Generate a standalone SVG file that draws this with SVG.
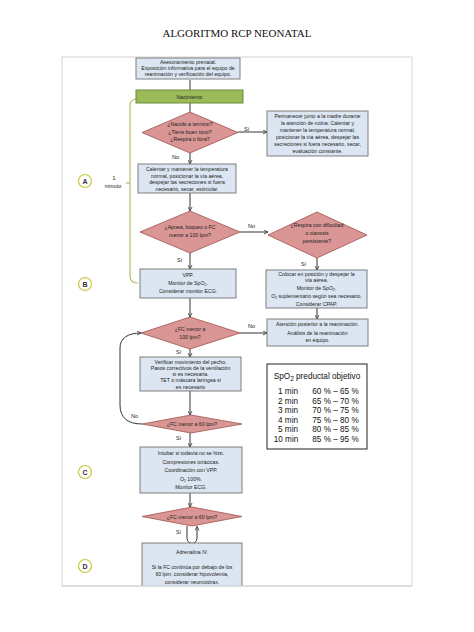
<svg xmlns="http://www.w3.org/2000/svg" width="474" height="632" viewBox="0 0 474 632">
<defs>
<marker id="ah" viewBox="0 0 10 10" refX="9" refY="5" markerWidth="5" markerHeight="5" orient="auto" markerUnits="userSpaceOnUse">
<path d="M1,1 L9,5 L1,9" fill="none" stroke="#333" stroke-width="1.6"/>
</marker>
<clipPath id="frame"><rect x="62" y="57" width="350" height="529"/></clipPath>
</defs>
<style>
.box{fill:#dce6f2;stroke:#7f7f7f;stroke-width:1}
.dia{fill:#d99694;stroke:#a0504d;stroke-width:0.8}
.t{font-family:"Liberation Sans",Arial,sans-serif;font-size:5.2px;fill:#222;text-anchor:middle}
.lbl{font-family:"Liberation Sans",Arial,sans-serif;font-size:5.5px;fill:#222}
.con{fill:none;stroke:#333;stroke-width:1}
.circ{fill:#fff;stroke:#c8c83c;stroke-width:1.2}
.cl{font-family:"Liberation Sans",Arial,sans-serif;font-size:7px;font-weight:bold;fill:#333;text-anchor:middle}
.tab{font-family:"Liberation Sans",Arial,sans-serif;font-size:8.2px;fill:#111}
</style>
<rect width="474" height="632" fill="#fff"/>
<text x="237" y="37" font-family="Liberation Serif,serif" font-size="11" text-anchor="middle" textLength="149" fill="#111">ALGORITMO RCP NEONATAL</text>
<rect x="62" y="57" width="350" height="529" fill="#fff" stroke="#d4d4d4" stroke-width="1"/>

<g id="bracket">
<path d="M137,99 Q130,99 130,106 L130,276 Q130,283 138,283" fill="none" stroke="#b8bc6a" stroke-width="1.2"/>
<path d="M130,183 L126,183" fill="none" stroke="#b8bc6a" stroke-width="1.2"/>
<text class="lbl" x="114" y="180" text-anchor="middle">1</text>
<text class="lbl" x="113" y="188" text-anchor="middle">minuto</text>
</g>

<g id="connectors">
<line class="con" x1="190" y1="80" x2="190" y2="90"/>
<line class="con" x1="190" y1="103" x2="190" y2="112"/>
<line class="con" x1="190" y1="153" x2="190" y2="164" marker-end="url(#ah)"/>
<line class="con" x1="238" y1="132" x2="267" y2="132" marker-end="url(#ah)"/>
<line class="con" x1="190" y1="193" x2="190" y2="211" marker-end="url(#ah)"/>
<line class="con" x1="240" y1="232" x2="268" y2="232" marker-end="url(#ah)"/>
<line class="con" x1="190" y1="253" x2="190" y2="269" marker-end="url(#ah)"/>
<line class="con" x1="317" y1="258" x2="317" y2="270" marker-end="url(#ah)"/>
<line class="con" x1="317" y1="308" x2="317" y2="319" marker-end="url(#ah)"/>
<line class="con" x1="190" y1="298" x2="190" y2="317" marker-end="url(#ah)"/>
<line class="con" x1="240" y1="333" x2="267" y2="333" marker-end="url(#ah)"/>
<line class="con" x1="190" y1="349" x2="190" y2="357" marker-end="url(#ah)"/>
<line class="con" x1="190" y1="391" x2="190" y2="415" marker-end="url(#ah)"/>
<path class="con" d="M142,424 C128,424 120,418 120,405 L120,348 C120,338 128,333 141,333" marker-end="url(#ah)"/>
<line class="con" x1="190" y1="433" x2="190" y2="447" marker-end="url(#ah)"/>
<line class="con" x1="190" y1="493" x2="190" y2="507" marker-end="url(#ah)"/>
<path class="con" d="M187,526 L187,538 C187,545 197,545 197,538 L197,526.5" marker-end="url(#ah)"/>
<text class="lbl" x="244" y="131">Sí</text>
<text class="lbl" x="172" y="159">No</text>
<text class="lbl" x="248" y="228">No</text>
<text class="lbl" x="177" y="262">Sí</text>
<text class="lbl" x="301" y="266">Sí</text>
<text class="lbl" x="248" y="328">No</text>
<text class="lbl" x="176" y="354">Sí</text>
<text class="lbl" x="131" y="418">No</text>
<text class="lbl" x="176" y="440">Sí</text>
<text class="lbl" x="176" y="534">Sí</text>
</g>

<g id="asesoramiento">
<rect class="box" x="136" y="58" width="104" height="21"/>
<text class="t" x="188" y="64">Asesoramiento prenatal.</text>
<text class="t" x="188" y="70">Exposición informativa para el equipo de</text>
<text class="t" x="188" y="76">reanimación y verificación del equipo.</text>
</g>

<g id="nacimiento">
<rect x="136" y="90" width="107" height="13" fill="#9bbb59" stroke="#6f8a3a" stroke-width="1"/>
<text class="t" x="189.5" y="98.5">Nacimiento</text>
</g>

<g id="d1">
<polygon class="dia" points="190,112 238,132.5 190,153 142,132.5"/>
<text class="t" x="190" y="126">¿Nacido a termino?</text>
<text class="t" x="190" y="133.5">¿Tiene buen tono?</text>
<text class="t" x="190" y="141">¿Respira o llora?</text>
</g>

<g id="r1">
<rect class="box" x="267" y="111" width="101" height="45"/>
<text class="t" x="317.5" y="118">Permanecer junto a la madre durante</text>
<text class="t" x="317.5" y="125">la atención de rutina: Calentar y</text>
<text class="t" x="317.5" y="132">mantener la temperatura normal,</text>
<text class="t" x="317.5" y="139">posicionar la vía aérea, despejar las</text>
<text class="t" x="317.5" y="146">secreciones si fuera necesario, secar,</text>
<text class="t" x="317.5" y="153">evaluación constante.</text>
</g>

<g id="calentar">
<rect class="box" x="138" y="164" width="98" height="29"/>
<text class="t" x="187" y="171">Calentar y mantener la temperatura</text>
<text class="t" x="187" y="177.5">normal, posicionar la vía aérea,</text>
<text class="t" x="187" y="184">despejar las secreciones si fuera</text>
<text class="t" x="187" y="190.5">necesario, secar, estimular.</text>
</g>

<g id="d2">
<polygon class="dia" points="190,211 240,232 190,253 140,232"/>
<text class="t" x="190" y="229">¿Apnea, boqueo o FC</text>
<text class="t" x="190" y="237">menor a 100 lpm?</text>
</g>

<g id="d3">
<polygon class="dia" points="317,212 367,235 317,258 268,235"/>
<text class="t" x="317" y="227">¿Respira con dificultad</text>
<text class="t" x="317" y="235">o cianosis</text>
<text class="t" x="317" y="242.5">persistente?</text>
</g>

<g id="vpp">
<rect class="box" x="140" y="269" width="96" height="29"/>
<text class="t" x="188" y="277">VPP.</text>
<text class="t" x="188" y="285">Monitor de SpO<tspan font-size="3.5" dy="1.2">2</tspan><tspan dy="-1.2">.</tspan></text>
<text class="t" x="188" y="293">Considerar monitor ECG.</text>
</g>

<g id="r2">
<rect class="box" x="266" y="270" width="101" height="38"/>
<text class="t" x="316.5" y="275.5">Colocar en posición y despejar la</text>
<text class="t" x="316.5" y="282">vía aérea.</text>
<text class="t" x="316.5" y="289.5">Monitor de SpO<tspan font-size="3.5" dy="1.2">2</tspan><tspan dy="-1.2">.</tspan></text>
<text class="t" x="316.5" y="298" font-size="4.6">O<tspan font-size="3.3" dy="1.2">2</tspan><tspan dy="-1.2"> suplementario según sea necesario.</tspan></text>
<text class="t" x="316.5" y="306">Considerar CPAP.</text>
</g>

<g id="r3">
<rect class="box" x="267" y="319" width="101" height="27"/>
<text class="t" x="317.5" y="326">Atención posterior a la reanimación.</text>
<text class="t" x="317.5" y="334.5">Análisis de la reanimación</text>
<text class="t" x="317.5" y="342">en equipo.</text>
</g>

<g id="d4">
<polygon class="dia" points="190,317 240,333 190,349 141,333"/>
<text class="t" x="190" y="331">¿FC menor a</text>
<text class="t" x="190" y="339">100 lpm?</text>
</g>

<g id="verificar">
<rect class="box" x="140" y="357" width="101" height="34"/>
<text class="t" x="190.5" y="363.5">Verificar movimiento del pecho.</text>
<text class="t" x="190.5" y="369.8">Pasos correctivos de la ventilación</text>
<text class="t" x="190.5" y="376.1">si es necesaria.</text>
<text class="t" x="190.5" y="382.4">TET o máscara laríngea si</text>
<text class="t" x="190.5" y="388.5">es necesario</text>
</g>

<g id="spo2">
<rect x="267" y="364" width="100" height="85" fill="#fff" stroke="#222" stroke-width="1"/>
<text class="tab" x="317" y="379" font-size="10" text-anchor="middle">SpO<tspan font-size="6.5" dy="2">2</tspan><tspan dy="-2"> preductal objetivo</tspan></text>
<g class="tab" text-anchor="middle">
<text x="288" y="394">1 min</text>
<text x="288" y="403.5">2 min</text>
<text x="288" y="413">3 min</text>
<text x="288" y="422.5">4 min</text>
<text x="288" y="432">5 min</text>
<text x="286" y="441.5">10 min</text>
</g>
<g class="tab" text-anchor="middle">
<text x="335.5" y="394">60 % – 65 %</text>
<text x="335.5" y="403.5">65 % – 70 %</text>
<text x="335.5" y="413">70 % – 75 %</text>
<text x="335.5" y="422.5">75 % – 80 %</text>
<text x="335.5" y="432">80 % – 85 %</text>
<text x="335.5" y="441.5">85 % – 95 %</text>
</g>
</g>

<g id="d5">
<polygon class="dia" points="191,415 242,424 191,433 142,424"/>
<text class="t" x="192" y="426">¿FC menor a 60 lpm?</text>
</g>

<g id="intubar">
<rect class="box" x="140" y="447" width="102" height="46"/>
<text class="t" x="191" y="455">Intubar si todavía no se hizo.</text>
<text class="t" x="191" y="463.5">Compresiones torácicas.</text>
<text class="t" x="191" y="472">Coordinación con VPP.</text>
<text class="t" x="191" y="480.5">O<tspan font-size="3.5" dy="1.2">2</tspan><tspan dy="-1.2"> 100%.</tspan></text>
<text class="t" x="191" y="489">Monitor ECG.</text>
</g>

<g id="d6">
<polygon class="dia" points="192,507 242,516.5 192,526 142,516.5"/>
<text class="t" x="192" y="518.5">¿FC menor a 60 lpm?</text>
</g>

<g id="adrenalina" clip-path="url(#frame)">
<rect class="box" x="142" y="543" width="100" height="50"/>
<text class="t" x="192" y="554">Adrenalina IV.</text>
<text class="t" x="192" y="569">Si la FC continúa por debajo de los</text>
<text class="t" x="192" y="576">60 lpm: considerar hipovolemia,</text>
<text class="t" x="192" y="584">considerar neumotórax.</text>
</g>
<line x1="62" y1="586" x2="412" y2="586" stroke="#d4d4d4" stroke-width="1"/>

<g id="circleA"><circle class="circ" cx="85" cy="181" r="6.5"/><text class="cl" x="85" y="183.5">A</text></g>
<g id="circleB"><circle class="circ" cx="85" cy="284" r="6.5"/><text class="cl" x="85" y="286.5">B</text></g>
<g id="circleC"><circle class="circ" cx="85" cy="472" r="6.5"/><text class="cl" x="85" y="474.5">C</text></g>
<g id="circleD"><circle class="circ" cx="85" cy="566" r="6.5"/><text class="cl" x="85" y="568.5">D</text></g>
</svg>
